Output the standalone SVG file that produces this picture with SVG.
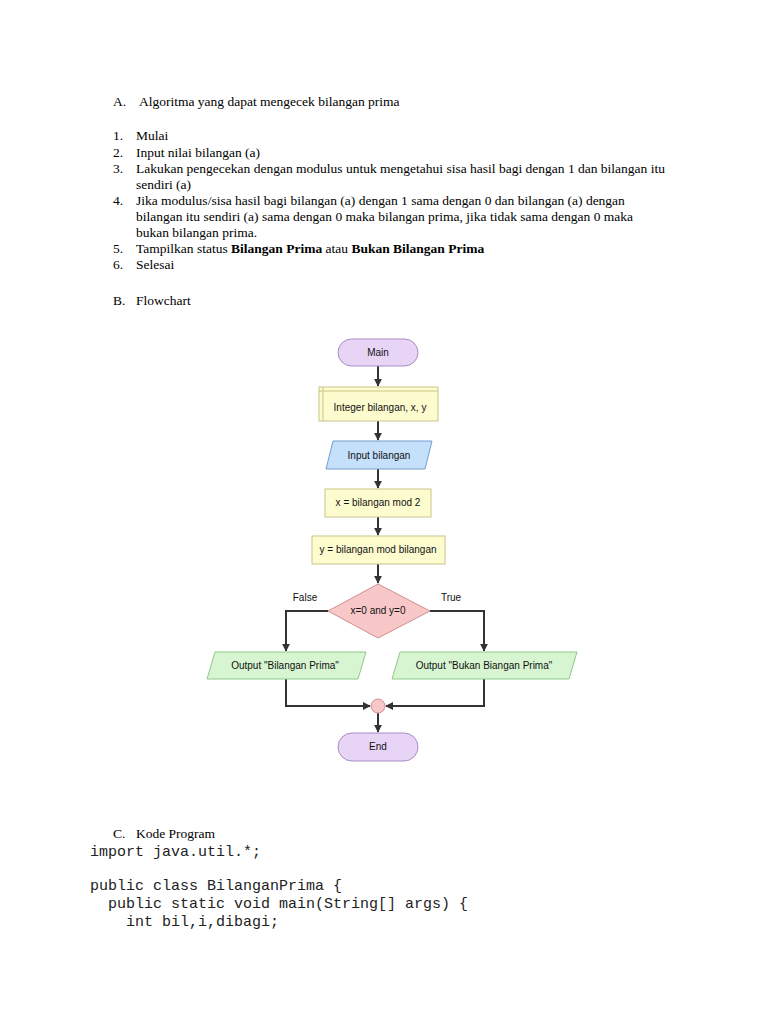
<svg xmlns="http://www.w3.org/2000/svg" width="768" height="1024" viewBox="0 0 768 1024">
<style>
.t{font-family:"Liberation Serif",serif;font-size:13.5px;fill:#000}
.c{font-family:"Liberation Mono",monospace;font-size:15px;fill:#222}
.f{font-family:"Liberation Sans",Arial,sans-serif;font-size:10px;fill:#111;text-anchor:middle}
.e{stroke:#333;stroke-width:2;fill:none;marker-end:url(#a)}
</style>
<defs><marker id="a" viewBox="0 0 10 10" refX="9" refY="5" markerWidth="4" markerHeight="4" orient="auto"><path d="M0,0L10,5L0,10z" fill="#333"/></marker></defs>
<rect width="768" height="1024" fill="#fff"/>
<text class="t" x="113" y="106">A.</text><text class="t" x="139" y="106">Algoritma yang dapat mengecek bilangan prima</text>
<text class="t" x="113" y="140">1.</text><text class="t" x="136" y="140">Mulai</text>
<text class="t" x="113" y="157">2.</text><text class="t" x="136" y="157">Input nilai bilangan (a)</text>
<text class="t" x="113" y="173">3.</text><text class="t" x="136" y="173">Lakukan pengecekan dengan modulus untuk mengetahui sisa hasil bagi dengan 1 dan bilangan itu</text>
<text class="t" x="136" y="189">sendiri (a)</text>
<text class="t" x="113" y="205">4.</text><text class="t" x="136" y="205">Jika modulus/sisa hasil bagi bilangan (a) dengan 1 sama dengan 0 dan bilangan (a) dengan</text>
<text class="t" x="136" y="221">bilangan itu sendiri (a) sama dengan 0 maka bilangan prima, jika tidak sama dengan 0 maka</text>
<text class="t" x="136" y="237">bukan bilangan prima.</text>
<text class="t" x="113" y="253">5.</text><text class="t" x="136" y="253">Tampilkan status <tspan font-weight="bold">Bilangan Prima</tspan> atau <tspan font-weight="bold">Bukan Bilangan Prima</tspan></text>
<text class="t" x="113" y="269">6.</text><text class="t" x="136" y="269">Selesai</text>
<text class="t" x="113" y="305">B.</text><text class="t" x="136" y="305">Flowchart</text>
<g id="edges">
<path class="e" d="M378,366V386"/>
<path class="e" d="M378,421V440"/>
<path class="e" d="M378,469V488"/>
<path class="e" d="M378,517V535"/>
<path class="e" d="M378,564V583"/>
<path class="e" d="M328,611H286V651"/>
<path class="e" d="M430,611H484V651"/>
<path class="e" d="M286,679V706H370"/>
<path class="e" d="M484,679V706H386"/>
<path class="e" d="M378,713V732"/>
</g>
<text class="f" x="305" y="601">False</text>
<text class="f" x="451" y="601">True</text>
<g id="main"><rect x="338" y="339" width="80" height="27" rx="13.5" fill="#e8d5f5" stroke="#a98bc4"/><text class="f" x="378" y="356">Main</text></g>
<g id="decl"><rect x="319" y="387" width="119" height="34" fill="#fdfccf" stroke="#c9c48a"/><path d="M319,391H438M323,387V421" stroke="#c9c48a" fill="none"/><text class="f" x="380" y="411">Integer bilangan, x, y</text></g>
<g id="input"><path d="M333,441H432L425,469H326Z" fill="#c4e0fb" stroke="#6f9fce"/><text class="f" x="379" y="459">Input bilangan</text></g>
<g id="x"><rect x="325" y="489" width="106" height="28" fill="#fdfccf" stroke="#c9c48a"/><text class="f" x="378" y="506">x = bilangan mod 2</text></g>
<g id="y"><rect x="312" y="536" width="133" height="28" fill="#fdfccf" stroke="#c9c48a"/><text class="f" x="378" y="553">y = bilangan mod bilangan</text></g>
<g id="dec"><path d="M378,584L430,611L378,638L328,611Z" fill="#f8c8c8" stroke="#d08e8e"/><text class="f" x="378" y="614">x=0 and y=0</text></g>
<g id="out1"><path d="M215,652H366L358,679H207Z" fill="#d6f5d0" stroke="#8fc98a"/><text class="f" x="285" y="669">Output "Bilangan Prima"</text></g>
<g id="out2"><path d="M400,652H577L569,679H392Z" fill="#d6f5d0" stroke="#8fc98a"/><text class="f" x="484" y="669">Output "Bukan Biangan Prima"</text></g>
<g id="join"><circle cx="378" cy="706" r="7" fill="#f8c8c8" stroke="#d08e8e"/></g>
<g id="end"><rect x="338" y="733" width="80" height="28" rx="14" fill="#e8d5f5" stroke="#a98bc4"/><text class="f" x="378" y="750">End</text></g>
<text class="t" x="113" y="838">C.</text><text class="t" x="136" y="838">Kode Program</text>
<text class="c" x="90" y="856" xml:space="preserve">import java.util.*;</text>
<text class="c" x="90" y="890" xml:space="preserve">public class BilanganPrima {</text>
<text class="c" x="90" y="908" xml:space="preserve">  public static void main(String[] args) {</text>
<text class="c" x="90" y="926" xml:space="preserve">    int bil,i,dibagi;</text>
</svg>
